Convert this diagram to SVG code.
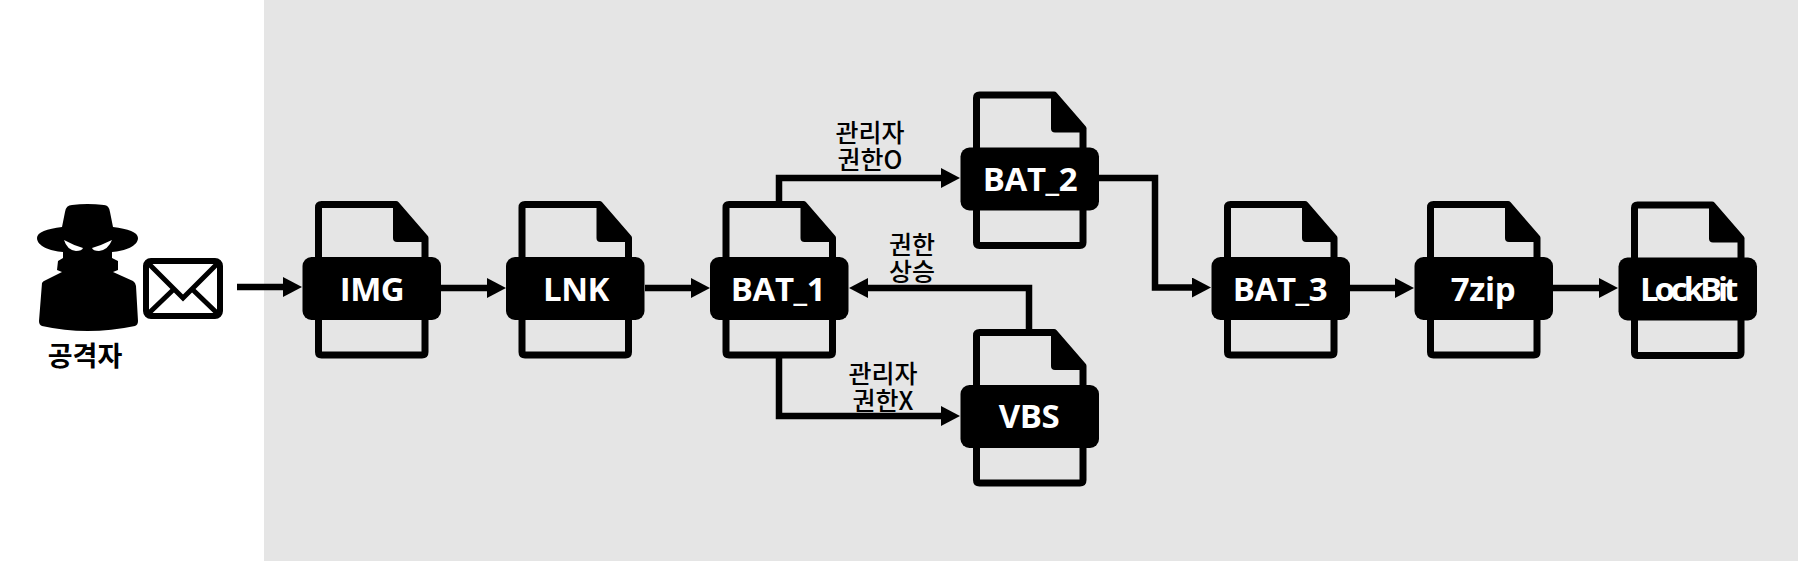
<svg xmlns="http://www.w3.org/2000/svg" width="1798" height="561" viewBox="0 0 1798 561">
<style>
.bg{fill:#e5e5e5}
.page{fill:none;stroke:#000;stroke-width:7;stroke-linejoin:round}
.fold,.banner{fill:#000}
.name{font:700 33px "Open Sans","Noto Sans CJK KR",sans-serif;fill:#fff;text-anchor:middle;letter-spacing:-.4px}
.lbl{font:500 25px "Noto Sans CJK KR",sans-serif;fill:#000;text-anchor:middle}
.conn{fill:none;stroke:#000;stroke-width:6.500;marker-end:url(#arr)}
</style>
<defs>
<marker id="arr" markerUnits="userSpaceOnUse" markerWidth="20" markerHeight="20" refX="1" refY="10" orient="auto"><path d="M0 0L19 10L0 20Z" fill="#000"/></marker>
<g id="file">
<path class="page" d="M3.500 6.500Q3.500 3.500 6.500 3.500H81L110 37V151Q110 154 107 154H6.500Q3.500 154 3.500 151Z"/>
<path class="fold" d="M78 3H82L113 37V41H82Q78 41 78 37Z"/>
<rect class="banner" x="-12.500" y="56" width="138.500" height="63" rx="9"/>
</g>
</defs>
<rect width="1798" height="561" fill="#fff"/>
<rect class="bg" x="264" width="1534" height="561"/>
<g id="attacker">
<path d="M65 212Q66 205 72 205Q87 203 104 205Q109 205 110 212L113 227C128 229 138 232 138 238C138 246 125 251 112 252V258L118 261L118 270L113 272L133 281Q136 283 136 286L138 321Q138 325 135 326Q87 336 42 326Q39 325 39 321L42 283Q43 281 46 280L62 272L57 270L58 261L63 258V252C50 251 37 246 37 238C37 232 47 229 62 227Z" fill="#000"/>
<path d="M64 240Q73 245 83 248Q82 251 76 251Q67 250 64 240ZM112 240Q102 245 92 248Q93 251 99 251Q108 250 112 240Z" fill="#fff"/>
<text x="85" y="366" style="font:700 27px 'Noto Sans CJK KR',sans-serif" text-anchor="middle">공격자</text>
</g>
<g id="mail">
<rect x="146" y="261" width="74" height="55" rx="5" fill="#fff" stroke="#000" stroke-width="6"/>
<path d="M148 263L183 298L218 263M148 314L174 289M218 314L192 289" fill="none" stroke="#000" stroke-width="5"/>
</g>
<g id="connectors">
<path class="conn" d="M237 287H284"/>
<path class="conn" d="M441 288H488"/>
<path class="conn" d="M645 288H692"/>
<path class="conn" d="M779 204V178H942"/>
<path class="conn" d="M779 354V416H942"/>
<path class="conn" d="M1029 332V288H867"/>
<path class="conn" d="M1099 178H1155V287.500H1193"/>
<path class="conn" d="M1350 288H1396"/>
<path class="conn" d="M1553 288H1600"/>
</g>
<g id="n-img"><use href="#file" x="315" y="201"/><text class="name" x="372" y="301">IMG</text></g>
<g id="n-lnk"><use href="#file" x="518.500" y="201"/><text class="name" x="576" y="301">LNK</text></g>
<g id="n-bat1"><use href="#file" x="722.500" y="201"/><text class="name" x="778" y="301">BAT_1</text></g>
<g id="n-bat2"><use href="#file" x="973" y="91.500"/><text class="name" x="1030" y="191">BAT_2</text></g>
<g id="n-vbs"><use href="#file" x="973" y="329"/><text class="name" x="1029" y="428">VBS</text></g>
<g id="n-bat3"><use href="#file" x="1224" y="201"/><text class="name" x="1280" y="301">BAT_3</text></g>
<g id="n-7zip"><use href="#file" x="1427" y="201"/><text class="name" x="1483" y="301">7zip</text></g>
<g id="n-lockbit"><use href="#file" x="1631" y="201.500"/><text class="name" x="1689" y="301" textLength="98" lengthAdjust="spacing">LockBit</text></g>
<g id="labels">
<text class="lbl" x="870" y="142">관리자<tspan x="870" dy="26.500">권한O</tspan></text>
<text class="lbl" x="912" y="254">권한<tspan x="912" dy="26.500">상승</tspan></text>
<text class="lbl" x="883" y="383">관리자<tspan x="883" dy="26.500">권한X</tspan></text>
</g>
</svg>
